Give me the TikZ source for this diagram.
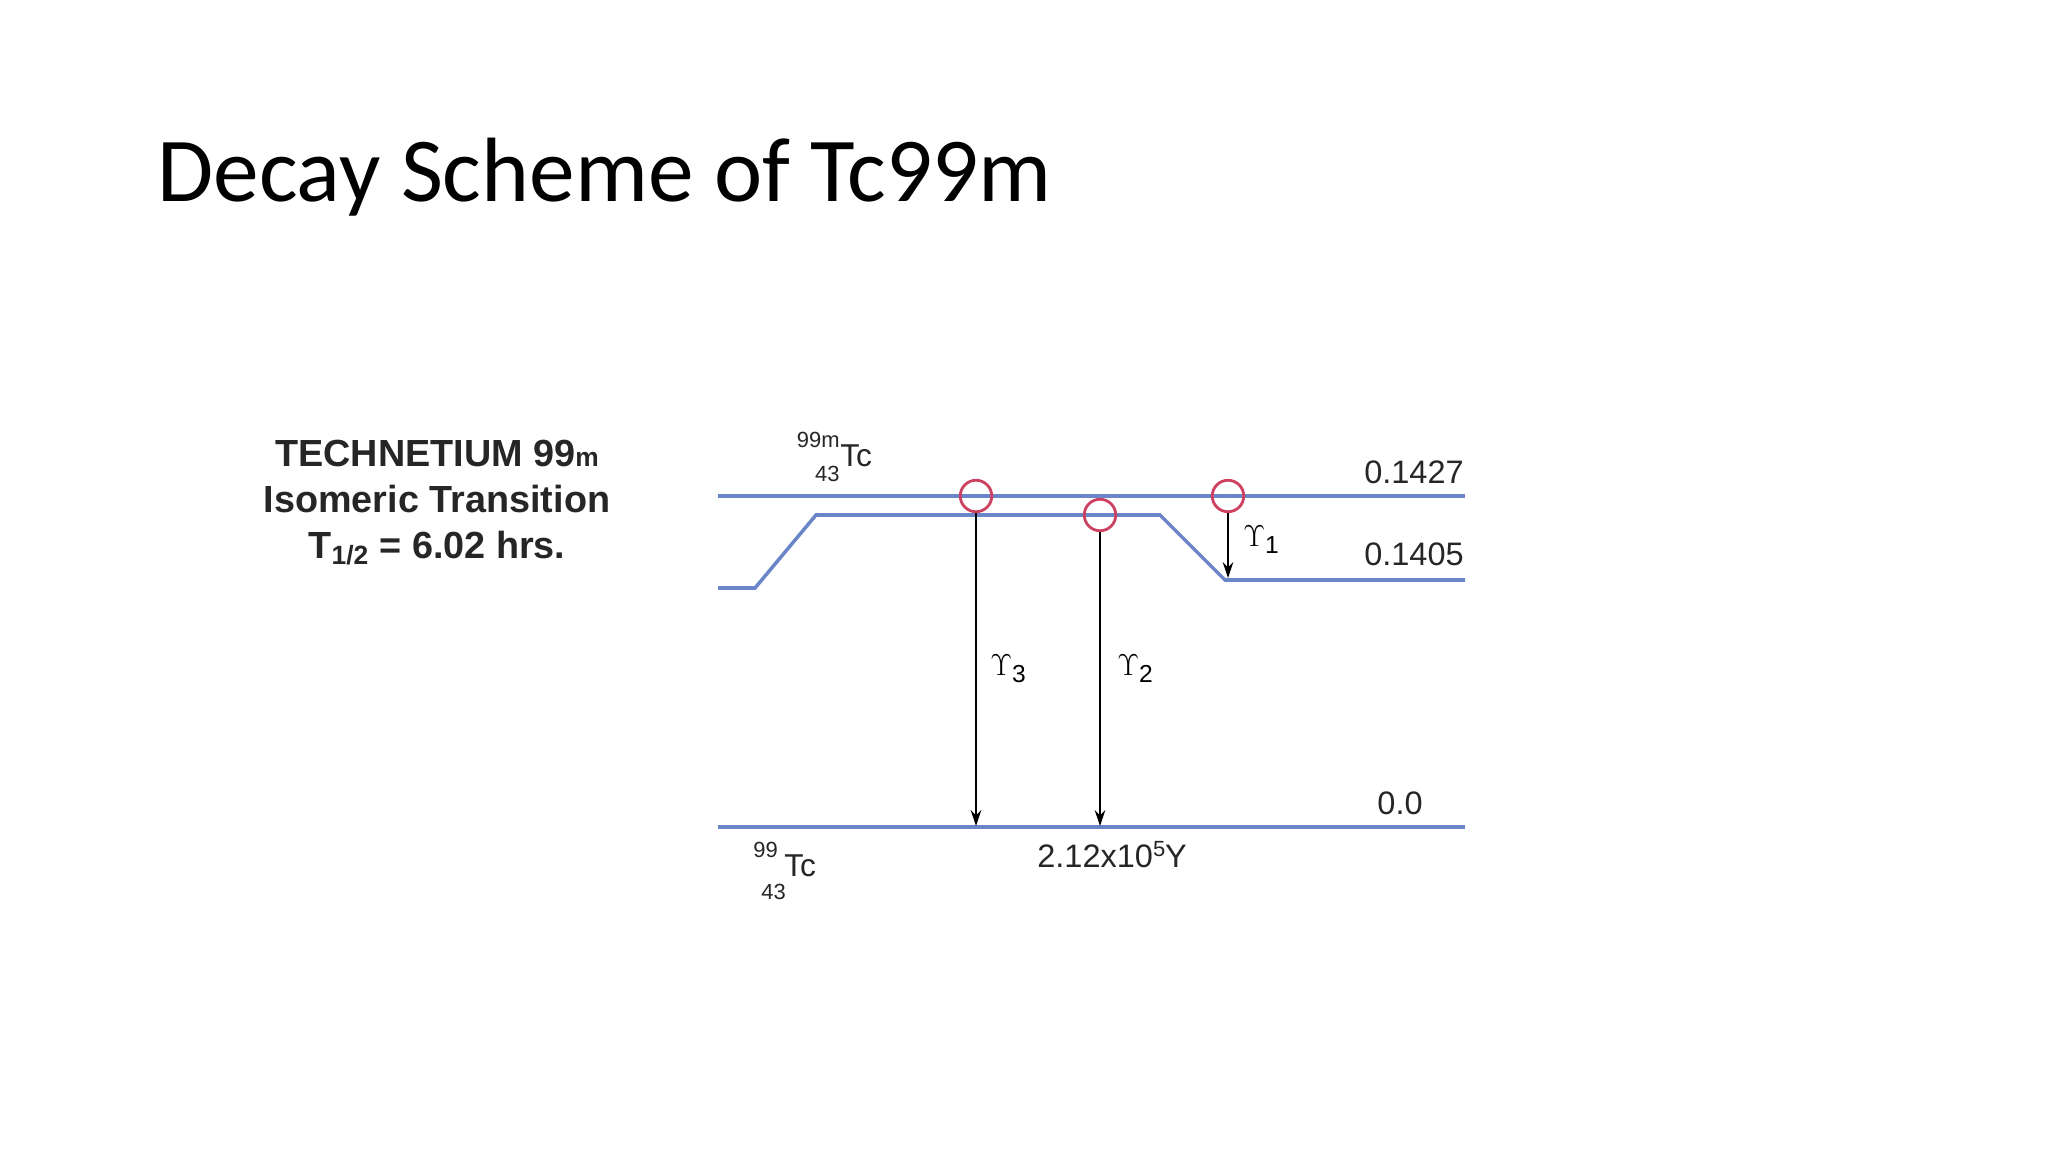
\documentclass[tikz,border=0pt]{standalone}
\usepackage{fontspec}
\setmainfont{Liberation Sans}
\newfontfamily\titrefont{Carlito}
\usetikzlibrary{arrows.meta}
\definecolor{niveau}{RGB}{106,134,200}
\definecolor{cercle}{RGB}{204,66,96}

\tikzset{niv/.style = {draw=niveau, line width=2pt},
         rond/.style = {circle, draw=cercle, line width=1.6pt, minimum size=0.63cm, inner sep=0pt},
         fleche/.style = {-{Stealth[length=9pt,width=6pt]}, line width=0.7pt},
         val/.style = {font=\fontsize{18.5}{20}\selectfont, inner sep=0pt, text=black!85},
         gam/.style = {font=\fontsize{19}{20}\selectfont, inner sep=0pt, anchor=base west},
         iso/.style = {font=\fontsize{18}{19}\selectfont, inner sep=0pt, text=black!85},
         petit/.style = {font=\fontsize{12.5}{13}\selectfont, inner sep=0pt, text=black!85}
        }
\newcommand{\gamind}[1]{$\Upsilon$\raisebox{-0.45ex}{\fontsize{14}{14}\selectfont #1}}

\begin{document}
\begin{tikzpicture}[x=0.02cm,y=-0.02cm]
\useasboundingbox (0,0) rectangle (2048,1152);
\node[font=\titrefont\fontsize{52}{56}\selectfont, anchor=base west, inner sep=0pt] (titre) at (157,202) {Decay Scheme of Tc99m};
\node[font=\bfseries\fontsize{21.5}{26}\selectfont, align=center, inner sep=0pt, text=black!85] (info) at (437,503)
  {TECHNETIUM 99{\fontsize{15}{15}\selectfont m}\\Isomeric Transition\\T\textsubscript{1/2} = 6.02 hrs.};
% niveaux
\coordinate (a1) at (718,496);
\coordinate (a2) at (1465,496);
\coordinate (b1) at (718,588);
\coordinate (b2) at (755,588);
\coordinate (b3) at (816,515);
\coordinate (b4) at (1160,515);
\coordinate (b5) at (1225,580);
\coordinate (b6) at (1465,580);
\coordinate (g1) at (718,827);
\coordinate (g2) at (1465,827);
\draw[niv] (a1) -- (a2);
\draw[niv] (b1) -- (b2) -- (b3) -- (b4) -- (b5) -- (b6);
\draw[niv] (g1) -- (g2);
% transitions
\node[rond] (c3) at (976,496) {};
\node[rond] (c2) at (1100,515) {};
\node[rond] (c1) at (1228,496) {};
\coordinate (p3) at (976,826);
\coordinate (p2) at (1100,826);
\coordinate (p1) at (1228,578);
\draw[fleche] (c3) -- (p3);
\draw[fleche] (c2) -- (p2);
\draw[fleche] (c1) -- (p1);
\node[gam] (y3) at (990,675) {\gamind{3}};
\node[gam] (y2) at (1117,675) {\gamind{2}};
\node[gam] (y1) at (1243,546) {\gamind{1}};
% energies
\node[val, anchor=base east] (e1) at (1464,483) {0.1427};
\node[val, anchor=base east] (e2) at (1464,565) {0.1405};
\node[val, anchor=base east] (e3) at (1423,814) {0.0};
\node[val, anchor=base west] (demi) at (1037,867) {2.12x10\raisebox{0.62ex}{\fontsize{12.5}{13}\selectfont 5}Y};
% isotopes
\node[iso, anchor=base west] (tcm) at (840,466) {Tc};
\node[petit, anchor=base east] (am) at (840,447) {99m};
\node[petit, anchor=base east] (zm) at (840,481) {43};
\node[iso, anchor=base west] (tc) at (784,876) {Tc};
\node[petit, anchor=base west] (a) at (753,857) {99};
\node[petit, anchor=base west] (z) at (761,899) {43};
\end{tikzpicture}
\end{document}
